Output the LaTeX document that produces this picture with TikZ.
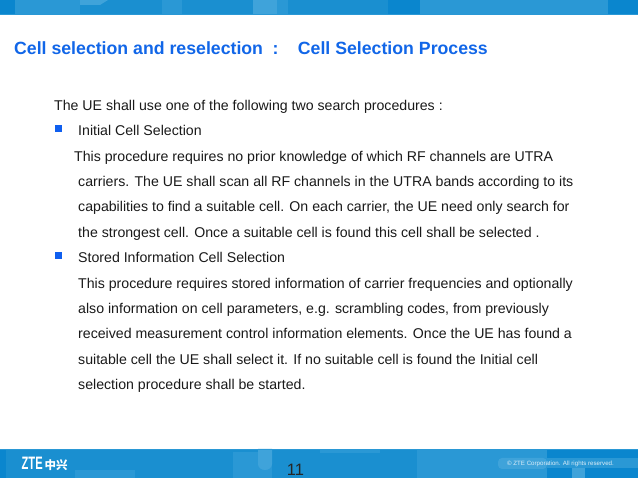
\documentclass[tikz,border=0pt]{standalone}
\usepackage{fontspec}
\setmainfont{Liberation Sans}
\newfontfamily\cjk{Noto Sans CJK SC}
\definecolor{bandbase}{HTML}{1A8FD0}
\definecolor{banddark}{HTML}{0A86CE}
\definecolor{bandlight}{HTML}{3FA3DA}
\definecolor{bandmid}{HTML}{2A98D5}
\definecolor{titleblue}{HTML}{1166E8}
\definecolor{bulletblue}{HTML}{0F5FEF}
\definecolor{bodytext}{HTML}{1A1A1A}
\tikzset{
  bodyline/.style={anchor=base west,inner sep=0pt,text=bodytext,font=\fontsize{14.15}{16}\selectfont},
  titleline/.style={anchor=base west,inner sep=0pt,text=titleblue,font=\fontsize{17.7}{20}\selectfont\bfseries},
  bulletmark/.style={fill=bulletblue,draw=none},
}
\begin{document}
\begin{tikzpicture}[x=1pt,y=-1pt]
\useasboundingbox (0,0) rectangle (638,478);
\fill[white] (0,0) rectangle (638,478);
% top band
\fill[bandbase] (0,0) rectangle (638,14.5);
\fill[banddark] (0,0) rectangle (15,14.5);
\fill[bandmid] (15,0) rectangle (80,14.5);
\fill[bandlight] (80,0) -- (108,0) -- (100,5) -- (80,5) -- cycle;
\fill[bandmid] (162,0) rectangle (182,14.5);
\fill[bandlight] (253,0) rectangle (277,14.5);
\fill[bandmid] (277,0) rectangle (288,14.5);
\fill[banddark] (388,0) rectangle (420,14.5);
\fill[bandmid] (420,0) rectangle (478,14.5);
\fill[bandmid] (478,0) rectangle (608,14.5);
\fill[banddark] (608,0) rectangle (638,14.5);
\draw[bandmid,line width=0.8pt] (0,14.5) -- (638,14.5);
% bottom band
\fill[bandbase] (0,449) rectangle (638,478);
\fill[banddark] (0,449) rectangle (6,478);
\fill[bandmid] (75,470) rectangle (135,478);
\fill[bandmid] (233,452) rectangle (272,478);
\fill[bandlight] (258,449) -- (272,449) -- (272,464) arc[start angle=0,end angle=180,radius=7pt,y radius=-6pt] -- cycle;
\fill[bandmid] (320,449) rectangle (380,453);
\fill[bandmid] (417,449) rectangle (547,478);
\fill[bandlight,rounded corners=4pt] (498,458) -- (547,458) -- (547,469) -- (498,469) -- cycle;
\fill[banddark] (547,449) rectangle (638,478);
\fill[bandmid] (547,458) rectangle (638,468);
\fill[bandlight] (572,468) rectangle (585,478);
\draw[bandmid,line width=0.8pt] (0,449) -- (638,449);
% title
\node[titleline] (title) at (14,55) {Cell selection and reselection\hspace{9.5pt}:\hspace{19.5pt}Cell Selection Process};
% body
\node[bodyline] (l1) at (54,110.6) {The UE shall use one of the following two search procedures :};
\fill[bulletmark] (55,125.5) rectangle (62,132);
\node[bodyline] (l2) at (78,135.6) {Initial Cell Selection};
\node[bodyline] (l3) at (74,161.6) {This procedure requires no prior knowledge of which RF channels are UTRA};
\node[bodyline] (l4) at (78,186.6) {carriers. The UE shall scan all RF channels in the UTRA bands according to its};
\node[bodyline] (l5) at (78,211.6) {capabilities to find a suitable cell. On each carrier, the UE need only search for};
\node[bodyline] (l6) at (78,237.6) {the strongest cell. Once a suitable cell is found this cell shall be selected .};
\fill[bulletmark] (55,252.5) rectangle (62,259);
\node[bodyline] (l7) at (78,262.6) {Stored Information Cell Selection};
\node[bodyline] (l8) at (78,288.6) {This procedure requires stored information of carrier frequencies and optionally};
\node[bodyline] (l9) at (78,313.6) {also information on cell parameters, e.g. scrambling codes, from previously};
\node[bodyline] (l10) at (78,338.6) {received measurement control information elements. Once the UE has found a};
\node[bodyline] (l11) at (78,364.6) {suitable cell the UE shall select it. If no suitable cell is found the Initial cell};
\node[bodyline] (l12) at (78,389.6) {selection procedure shall be started.};
% footer
\node[anchor=base west,inner sep=0pt,text=white,xscale=0.62,font=\fontsize{18}{18}\selectfont\bfseries] (zte) at (21.5,470) {ZTE};
\node[anchor=base west,inner sep=0pt,text=white,font=\fontsize{11.5}{11.5}\selectfont\cjk\bfseries] (zx) at (44.5,469.5) {中兴};
\node[anchor=base,inner sep=0pt,text=black!85,font=\fontsize{16.5}{16.5}\selectfont] (num) at (295.5,475.5) {11};
\node[anchor=base west,inner sep=0pt,text=white!85!bandbase,font=\fontsize{6.15}{7}\selectfont] (copy) at (507,465.5) {© ZTE Corporation. All rights reserved.};
\end{tikzpicture}
\end{document}
